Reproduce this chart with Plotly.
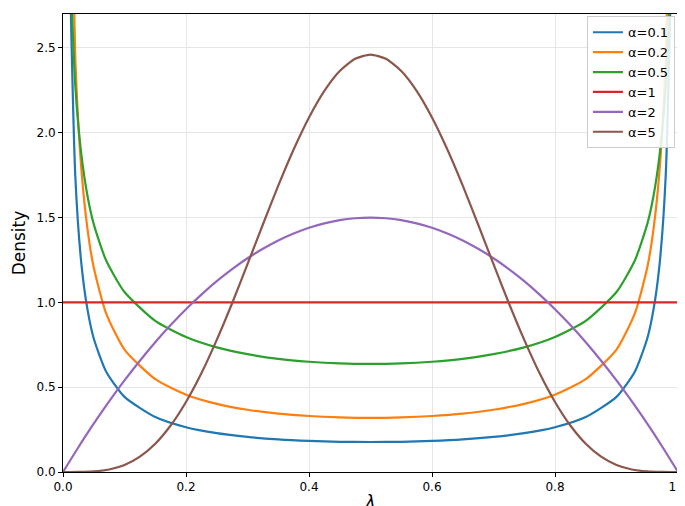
import plotly.graph_objects as go

# left half of the lambda grid (curves are symmetric about 0.5)
x_half = [0.005, 0.01, 0.02, 0.03, 0.04, 0.05, 0.07, 0.1, 0.15, 0.2, 0.25, 0.3, 0.35, 0.4, 0.45, 0.5]
x_flat = [0.0, 0.5]
x_fine = [0.0, 0.025, 0.05, 0.075, 0.1, 0.125, 0.15, 0.175, 0.2, 0.225, 0.25, 0.275,
          0.3, 0.325, 0.35, 0.375, 0.4, 0.425, 0.45, 0.475, 0.5]

y_a01 = [6.0, 3.23, 1.745, 1.223, 0.954, 0.787, 0.593, 0.443, 0.324, 0.264, 0.229, 0.207, 0.192, 0.183, 0.178, 0.177]
y_a02 = [7.32, 4.22, 2.44, 1.78, 1.428, 1.205, 0.937, 0.722, 0.547, 0.456, 0.402, 0.367, 0.344, 0.330, 0.322, 0.319]
y_a05 = [4.513, 3.199, 2.274, 1.866, 1.624, 1.461, 1.248, 1.061, 0.891, 0.796, 0.735, 0.695, 0.667, 0.650, 0.640, 0.637]
y_a1 = [1.0, 1.0]
y_a2 = [0.0, 0.146, 0.285, 0.416, 0.54, 0.656, 0.765, 0.866, 0.96, 1.046, 1.125, 1.196,
        1.26, 1.316, 1.365, 1.406, 1.44, 1.466, 1.485, 1.496, 1.5]
y_a5 = [0.0, 0.0002, 0.0032, 0.0146, 0.0413, 0.0902, 0.1665, 0.274, 0.413, 0.582, 0.779, 0.995,
        1.225, 1.459, 1.688, 1.901, 2.090, 2.247, 2.364, 2.436, 2.461]

labels = ["α=0.1", "α=0.2", "α=0.5", "α=1", "α=2", "α=5"]
colors = ["#1f77b4", "#ff7f0e", "#2ca02c", "#d62728", "#9467bd", "#8c564b"]


def full(xs, ys):
    xx = xs + [1 - v for v in reversed(xs[:-1])]
    yy = ys + list(reversed(ys[:-1]))
    return xx, yy


series = [(x_half, y_a01), (x_half, y_a02), (x_half, y_a05),
          (x_flat, y_a1), (x_fine, y_a2), (x_fine, y_a5)]

fig = go.Figure()
for (xs, ys), name, c in zip(series, labels, colors):
    xx, yy = full(xs, ys)
    fig.add_trace(go.Scatter(x=xx, y=yy, mode="lines", name=name,
                             line=dict(color=c, width=2.2, shape="spline", smoothing=0.6)))

axis = dict(showline=True, linecolor="black", linewidth=1, mirror=True,
            ticks="outside", ticklen=4, tickcolor="black",
            showgrid=True, gridcolor="#e6e6e6", zeroline=False,
            tickfont=dict(size=12, color="black"))
fig.update_xaxes(axis, range=[0, 1], dtick=0.2, tickformat=".1f",
                 title=dict(text="<i>λ</i>", font=dict(size=17), standoff=2))
fig.update_yaxes(axis, range=[0, 2.7], dtick=0.5, tickformat=".1f",
                 title=dict(text="Density", font=dict(size=17), standoff=6))
fig.update_layout(
    width=685, height=506, plot_bgcolor="white", paper_bgcolor="white",
    font=dict(family="DejaVu Sans", color="black"),
    margin=dict(l=55, r=10, t=5, b=42),
    legend=dict(x=0.995, y=0.995, xanchor="right", yanchor="top",
                bordercolor="#cccccc", borderwidth=1, bgcolor="rgba(255,255,255,0.85)",
                font=dict(size=13)),
)
fig.write_html("out.html")
